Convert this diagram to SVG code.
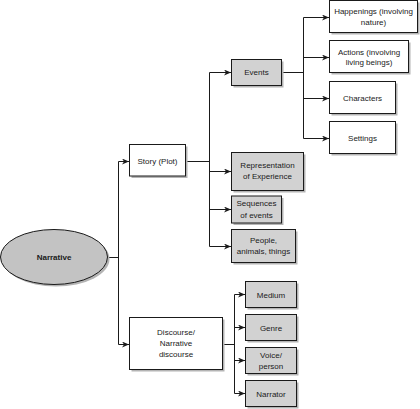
<svg xmlns="http://www.w3.org/2000/svg" width="420" height="409" viewBox="0 0 420 409">
<style>
.bg{fill:#ffffff}
.w{fill:#ffffff;stroke:#1a1a1a;stroke-width:1}
.g{fill:#d2d2d2;stroke:#1a1a1a;stroke-width:1}
.sh{fill:#b4b4b4}
.t{font-family:"Liberation Sans",Arial,sans-serif;font-size:8px;fill:#1a1a1a;text-anchor:middle}
.b{font-weight:bold}
.c{fill:none;stroke:#1a1a1a;stroke-width:1}
</style>
<defs>
<marker id="ar" markerUnits="userSpaceOnUse" markerWidth="8" markerHeight="6" refX="7" refY="3" orient="auto">
<path d="M0,0 L7,3 L0,6 L2,3 z" fill="#1a1a1a"/>
</marker>
</defs>
<rect class="bg" x="0" y="0" width="420" height="409"/>
<g id="connectors">
<path class="c" d="M108,257.5 H118.5"/>
<path class="c" d="M118.5,161.5 V344.5"/>
<path class="c" d="M118.5,161.5 H129" marker-end="url(#ar)"/>
<path class="c" d="M118.5,344.5 H129" marker-end="url(#ar)"/>
<path class="c" d="M186,161.5 H209.5"/>
<path class="c" d="M209.5,72.5 V246.5"/>
<path class="c" d="M209.5,72.5 H231" marker-end="url(#ar)"/>
<path class="c" d="M209.5,171.5 H231" marker-end="url(#ar)"/>
<path class="c" d="M209.5,209.5 H231" marker-end="url(#ar)"/>
<path class="c" d="M209.5,246.5 H231" marker-end="url(#ar)"/>
<path class="c" d="M282,72.5 H303.5"/>
<path class="c" d="M303.5,17.5 V138.5"/>
<path class="c" d="M303.5,17.5 H329" marker-end="url(#ar)"/>
<path class="c" d="M303.5,57.5 H329" marker-end="url(#ar)"/>
<path class="c" d="M303.5,98.5 H329" marker-end="url(#ar)"/>
<path class="c" d="M303.5,138.5 H329" marker-end="url(#ar)"/>
<path class="c" d="M223,344.5 H234.5"/>
<path class="c" d="M234.5,294.5 V393.5"/>
<path class="c" d="M234.5,294.5 H245" marker-end="url(#ar)"/>
<path class="c" d="M234.5,327.5 H245" marker-end="url(#ar)"/>
<path class="c" d="M234.5,360.5 H245" marker-end="url(#ar)"/>
<path class="c" d="M234.5,393.5 H245" marker-end="url(#ar)"/>
</g>
<g id="narrative">
<ellipse class="sh" cx="56" cy="259" rx="53.5" ry="27.5"/>
<ellipse class="g" cx="54" cy="257" rx="53.5" ry="27.5" style="fill:#c3c3c3"/>
<text class="t b" x="54" y="260">Narrative</text>
</g>
<g id="story">
<rect class="sh" x="131.5" y="146.5" width="56" height="31.5"/>
<rect class="w" x="129.5" y="144.5" width="56" height="31.5"/>
<text class="t" x="157.5" y="164">Story (Plot)</text>
</g>
<g id="events">
<rect class="sh" x="233.5" y="61.5" width="50" height="26"/>
<rect class="g" x="231.5" y="59.5" width="50" height="26"/>
<text class="t" x="256.5" y="75">Events</text>
</g>
<g id="representation">
<rect class="sh" x="233.5" y="154.5" width="72" height="38"/>
<rect class="g" x="231.5" y="152.5" width="72" height="38"/>
<text class="t" x="267.5" y="168">Representation</text>
<text class="t" x="267.5" y="179">of Experience</text>
</g>
<g id="sequences">
<rect class="sh" x="233.5" y="198" width="50" height="27"/>
<rect class="g" x="231.5" y="196" width="50" height="27"/>
<text class="t" x="256.5" y="206">Sequences</text>
<text class="t" x="256.5" y="218">of events</text>
</g>
<g id="people">
<rect class="sh" x="233.5" y="231.5" width="64" height="33"/>
<rect class="g" x="231.5" y="229.5" width="64" height="33"/>
<text class="t" x="263.5" y="243">People,</text>
<text class="t" x="263.5" y="254">animals, things</text>
</g>
<g id="happenings">
<rect class="sh" x="331.5" y="2.5" width="88" height="32"/>
<rect class="w" x="329.5" y="0.5" width="88" height="32"/>
<text class="t" x="373.5" y="13.5">Happenings (involving</text>
<text class="t" x="373.5" y="24.5">nature)</text>
</g>
<g id="actions">
<rect class="sh" x="331.5" y="42.5" width="79" height="32"/>
<rect class="w" x="329.5" y="40.5" width="79" height="32"/>
<text class="t" x="369" y="54.5">Actions (involving</text>
<text class="t" x="369" y="65">living beings)</text>
</g>
<g id="characters">
<rect class="sh" x="331.5" y="83.5" width="66" height="32"/>
<rect class="w" x="329.5" y="81.5" width="66" height="32"/>
<text class="t" x="362.5" y="100.5">Characters</text>
</g>
<g id="settings">
<rect class="sh" x="331.5" y="123.5" width="66" height="32"/>
<rect class="w" x="329.5" y="121.5" width="66" height="32"/>
<text class="t" x="362.5" y="141">Settings</text>
</g>
<g id="discourse">
<rect class="sh" x="131.5" y="319.5" width="93" height="52"/>
<rect class="w" x="129.5" y="317.5" width="93" height="52"/>
<text class="t" x="176" y="335">Discourse/</text>
<text class="t" x="176" y="346">Narrative</text>
<text class="t" x="176" y="357">discourse</text>
</g>
<g id="medium">
<rect class="sh" x="247.5" y="283.5" width="51" height="26"/>
<rect class="g" x="245.5" y="281.5" width="51" height="26"/>
<text class="t" x="271" y="297.5">Medium</text>
</g>
<g id="genre">
<rect class="sh" x="247.5" y="316.5" width="51" height="26"/>
<rect class="g" x="245.5" y="314.5" width="51" height="26"/>
<text class="t" x="271" y="330.5">Genre</text>
</g>
<g id="voice">
<rect class="sh" x="247.5" y="349.5" width="51" height="26"/>
<rect class="g" x="245.5" y="347.5" width="51" height="26"/>
<text class="t" x="271" y="358">Voice/</text>
<text class="t" x="271" y="369">person</text>
</g>
<g id="narrator">
<rect class="sh" x="247.5" y="382.5" width="51" height="26"/>
<rect class="g" x="245.5" y="380.5" width="51" height="26"/>
<text class="t" x="271" y="396.5">Narrator</text>
</g>
</svg>
